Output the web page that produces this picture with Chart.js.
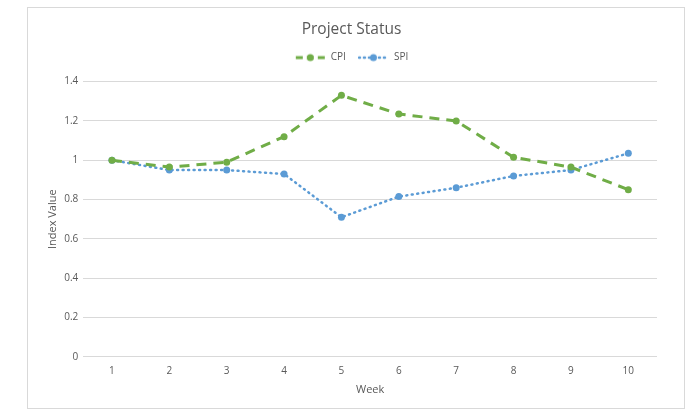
<!DOCTYPE html>
<html>
<head>
<meta charset="utf-8">
<script src="https://cdn.jsdelivr.net/npm/chart.js@4"></script>
<style>
  html, body { margin: 0; padding: 0; background: #fff; }
  #box {
    position: absolute; left: 27px; top: 7px;
    width: 658px; height: 402px;
    border: 1px solid #d9d9d9; box-sizing: border-box;
  }
</style>
</head>
<body>
<div id="box"><canvas id="chart"></canvas></div>
<script>
const weeks = ['1', '2', '3', '4', '5', '6', '7', '8', '9', '10'];
const cpiValues = [1.0, 0.965, 0.99, 1.12, 1.33, 1.235, 1.2, 1.015, 0.965, 0.85];
const spiValues = [1.0, 0.95, 0.95, 0.93, 0.71, 0.815, 0.86, 0.92, 0.95, 1.035];

const cpiColor = '#70ad47';
const spiColor = '#5b9bd5';
const textColor = '#595959';

// little legend icons: line with a dot in the middle
function legendIcon(color, dash, width, round) {
    const c = document.createElement('canvas');
    c.width = 31; c.height = 10;
    const g = c.getContext('2d');
    g.strokeStyle = color;
    g.lineWidth = width;
    g.lineCap = round ? 'round' : 'butt';
    g.setLineDash(dash);
    g.beginPath();
    g.moveTo(1, 5); g.lineTo(30, 5);
    g.stroke();
    g.fillStyle = color;
    g.beginPath();
    g.arc(15.5, 5, 3.5, 0, Math.PI * 2);
    g.fill();
    return c;
}

// extra room between legend and plot
const legendGap = {
    id: 'legendGap',
    beforeInit(chart) {
        const origFit = chart.legend.fit;
        chart.legend.fit = function() {
            origFit.bind(chart.legend)();
            this.height += 9;
        };
    }
};

const ctx = document.getElementById('chart').getContext('2d');
new Chart(ctx, {
    type: 'line',
    data: {
        labels: weeks,
        datasets: [{
            label: 'CPI',
            data: cpiValues,
            borderColor: cpiColor,
            backgroundColor: cpiColor,
            borderWidth: 3,
            borderDash: [10, 7],
            pointRadius: 3.5,
            pointBorderWidth: 0,
            pointHoverRadius: 3.5,
            tension: 0
        }, {
            label: 'SPI',
            data: spiValues,
            borderColor: spiColor,
            backgroundColor: spiColor,
            borderWidth: 2.5,
            borderDash: [1, 4.5],
            borderCapStyle: 'round',
            pointRadius: 3.5,
            pointBorderWidth: 0,
            pointHoverRadius: 3.5,
            tension: 0
        }]
    },
    options: {
        responsive: true,
        maintainAspectRatio: false,
        animation: false,
        layout: { padding: { left: 18, right: 27, top: 10, bottom: 12 } },
        plugins: {
            title: {
                display: true,
                text: 'Project Status',
                color: textColor,
                font: { family: 'Open Sans', size: 15.5, weight: 'normal' },
                padding: { top: 2, bottom: 2 }
            },
            legend: {
                display: true,
                position: 'top',
                labels: {
                    color: textColor,
                    font: { family: 'Open Sans', size: 10 },
                    usePointStyle: true,
                    pointStyleWidth: 31,
                    boxHeight: 10,
                    padding: 12,
                    generateLabels: function(chart) {
                        return [
                            { text: 'CPI', pointStyle: legendIcon(cpiColor, [7, 4], 3, false), fontColor: textColor, lineWidth: 0, datasetIndex: 0 },
                            { text: 'SPI', pointStyle: legendIcon(spiColor, [1, 4], 2.5, true), fontColor: textColor, lineWidth: 0, datasetIndex: 1 }
                        ];
                    }
                }
            },
            tooltip: { enabled: false }
        },
        scales: {
            x: {
                offset: true,
                grid: { display: false, drawTicks: false },
                border: { display: false },
                ticks: { color: textColor, font: { family: 'Open Sans', size: 10 }, padding: 8 },
                title: {
                    display: true,
                    text: 'Week',
                    color: textColor,
                    font: { family: 'Open Sans', size: 11 },
                    padding: { top: -2, bottom: 0 }
                }
            },
            y: {
                min: 0,
                max: 1.4,
                ticks: {
                    stepSize: 0.2,
                    color: textColor,
                    font: { family: 'Open Sans', size: 10 },
                    padding: 5,
                    callback: function(v) { return String(+v.toFixed(1)); }
                },
                grid: { color: '#d9d9d9', lineWidth: 1, drawTicks: false },
                border: { display: false },
                title: {
                    display: true,
                    text: 'Index Value',
                    color: textColor,
                    font: { family: 'Open Sans', size: 11 },
                    padding: { top: 0, bottom: 0 }
                }
            }
        }
    },
    plugins: [legendGap]
});
</script>
</body>
</html>
